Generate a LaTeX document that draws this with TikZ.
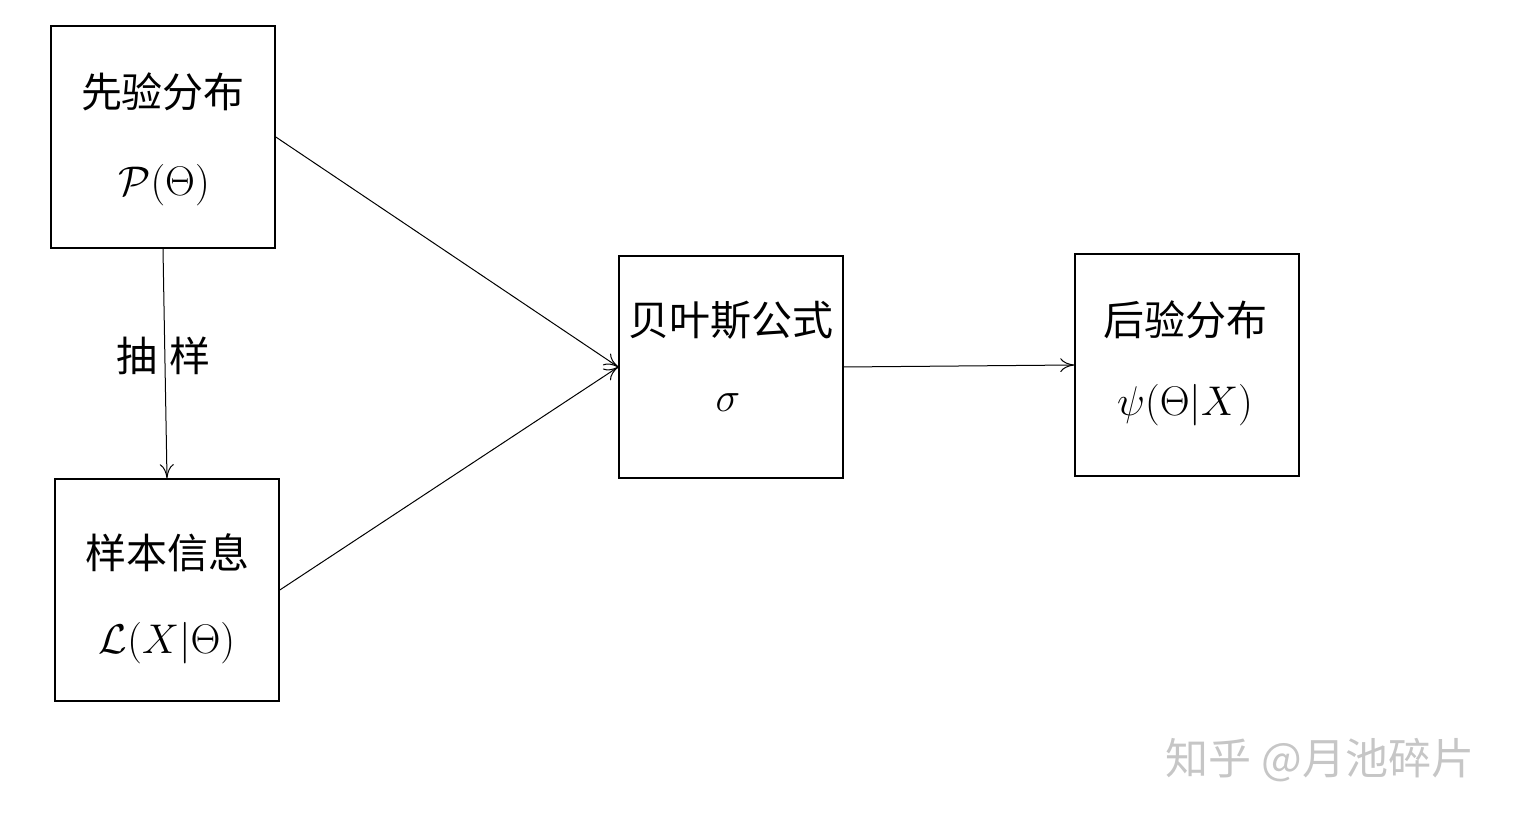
\documentclass[tikz,border=0pt]{standalone}
\usepackage{fontspec}
\newfontfamily\cjk{Noto Sans CJK SC}
\usetikzlibrary{arrows.meta}
\begin{document}
\begin{tikzpicture}[x=0.5pt,y=-0.5pt,
  box/.style={draw,line width=0.8pt,minimum width=112pt,minimum height=111pt,inner sep=0pt},
  lbl/.style={font=\cjk\fontsize{20.5}{24}\selectfont,inner sep=0pt},
  mth/.style={font=\fontsize{22}{26}\selectfont,inner sep=0pt},
  arr/.style={-{To[length=7pt,width=7pt]},line width=0.5pt}]
\useasboundingbox (0,0) rectangle (1523,823);
\node[box] (A) at (163,137) {};
\node[box] (B) at (167,590) {};
\node[box] (C) at (731,367) {};
\node[box] (D) at (1187,365) {};
\node[lbl] (a1) at (163,92) {先验分布};
\node[mth] (a2) at (164,185) {$\mathcal{P}(\Theta)$};
\node[lbl] (b1) at (167,553) {样本信息};
\node[mth] (b2) at (167,643) {$\mathcal{L}(X|\Theta)$};
\node[lbl] (c1) at (731,320) {贝叶斯公式};
\node[mth] (c2) at (728,403) {$\sigma$};
\node[lbl] (d1) at (1185,320) {后验分布};
\node[mth] (d2) at (1185,405) {$\psi(\Theta|X)$};
\node[lbl] (s1) at (137,356) {抽};
\node[lbl] (s2) at (190,356) {样};
\draw[arr] (A.east) -- (C.west);
\draw[arr] (B.east) -- (C.west);
\draw[arr] (A.south) -- (B.north);
\draw[arr] (C.east) -- (D.west);
\node[lbl,text=gray!45,font=\cjk\fontsize{21.5}{24}\selectfont] (w) at (1320,760) {知乎 @月池碎片};
\end{tikzpicture}
\end{document}
